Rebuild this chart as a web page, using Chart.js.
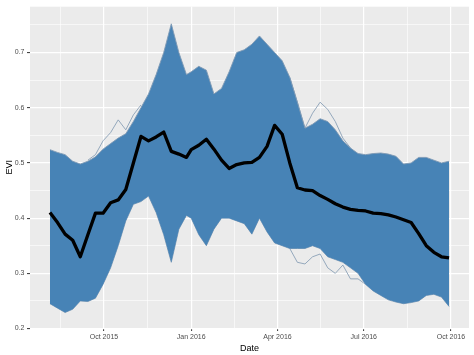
<!DOCTYPE html>
<html><head><meta charset="utf-8">
<script src="https://cdn.jsdelivr.net/npm/chart.js@4/dist/chart.umd.min.js"></script>
<style>html,body{margin:0;padding:0;background:#fff}#wrap{width:474px;height:355px}</style>
</head><body><div id="wrap"><canvas id="c" width="474" height="355"></canvas></div>
<script>
const dates = ['2015-08-05','2015-08-13','2015-08-21','2015-08-29','2015-09-06','2015-09-14','2015-09-22','2015-09-30',
 '2015-10-08','2015-10-16','2015-10-24','2015-11-01','2015-11-09','2015-11-17','2015-11-25','2015-12-03','2015-12-11',
 '2015-12-19','2015-12-27','2016-01-01','2016-01-09','2016-01-17','2016-01-25','2016-02-02','2016-02-10','2016-02-18',
 '2016-02-26','2016-03-05','2016-03-13','2016-03-21','2016-03-29','2016-04-06','2016-04-14','2016-04-22','2016-04-30',
 '2016-05-08','2016-05-16','2016-05-24','2016-06-01','2016-06-09','2016-06-17','2016-06-25','2016-07-03','2016-07-11',
 '2016-07-19','2016-07-27','2016-08-04','2016-08-12','2016-08-20','2016-08-28','2016-09-05','2016-09-13','2016-09-21','2016-09-29'];
const meanEVI = [0.410,0.392,0.371,0.360,0.330,0.370,0.409,0.409,0.428,0.433,0.452,0.500,0.548,0.540,0.547,0.556,0.521,0.516,
 0.510,0.524,0.532,0.543,0.525,0.505,0.490,0.497,0.500,0.501,0.510,0.530,0.568,0.552,0.500,0.455,0.451,0.450,0.441,0.434,
 0.426,0.420,0.416,0.414,0.413,0.409,0.408,0.406,0.402,0.397,0.392,0.372,0.350,0.338,0.330,0.328];
const upperEVI = [0.524,0.519,0.515,0.503,0.498,0.503,0.511,0.525,0.535,0.545,0.553,0.575,0.600,0.625,0.660,0.700,0.752,0.700,
 0.660,0.665,0.675,0.668,0.625,0.635,0.665,0.700,0.705,0.715,0.730,0.715,0.700,0.685,0.655,0.610,0.563,0.570,0.580,0.575,
 0.560,0.540,0.527,0.517,0.515,0.517,0.518,0.516,0.512,0.498,0.500,0.510,0.510,0.505,0.500,0.503];
const lowerEVI = [0.245,0.237,0.229,0.235,0.250,0.249,0.255,0.280,0.310,0.350,0.395,0.425,0.430,0.440,0.410,0.370,0.320,0.380,
 0.405,0.400,0.370,0.350,0.380,0.400,0.400,0.395,0.390,0.371,0.400,0.375,0.355,0.350,0.345,0.345,0.345,0.350,0.345,0.330,
 0.325,0.320,0.310,0.300,0.280,0.268,0.260,0.252,0.248,0.245,0.247,0.250,0.260,0.262,0.257,0.240];
// individual strays visible outside the dense band (null = not separately visible)
const strayHighEarly = [null,null,null,null,null,0.505,0.515,0.540,0.555,0.578,0.560,0.587,0.605,null,null,null,null,null,
 null,null,null,null,null,null,null,null,null,null,null,null,null,null,null,null,null,null,null,null,null,null,null,null,
 null,null,null,null,null,null,null,null,null,null,null,null];
const strayHighMay = [null,null,null,null,null,null,null,null,null,null,null,null,null,null,null,null,null,null,null,null,
 null,null,null,null,null,null,null,null,null,null,null,null,0.655,0.610,0.563,0.590,0.610,0.597,0.575,0.545,0.527,null,
 null,null,null,null,null,null,null,null,null,null,null,null];
const strayLowMay = [null,null,null,null,null,null,null,null,null,null,null,null,null,null,null,null,null,null,null,null,
 null,null,null,null,null,null,null,null,null,null,null,null,0.345,0.320,0.317,0.330,0.335,0.310,0.300,0.315,0.290,0.290,
 0.280,null,null,null,null,null,null,null,null,null,null,null];
const xTickDates = ['2015-10-01','2016-01-01','2016-04-01','2016-07-01','2016-10-01'];
const xTickLabels = ['Oct 2015','Jan 2016','Apr 2016','Jul 2016','Oct 2016'];
const yTickValues = [0.2,0.3,0.4,0.5,0.6,0.7];

function dayNum(s){const p=s.split('-').map(Number);return Date.UTC(p[0],p[1]-1,p[2])/86400000;}
const xs = dates.map(dayNum);
const pts = arr => arr.map((v,i)=>({x:xs[i],y:v}));
const xMin = xs[0]-0.05*(xs[xs.length-1]-xs[0]);
const xMax = xs[xs.length-1]+0.05*(xs[xs.length-1]-xs[0]);
const xMajor = xTickDates.map(dayNum);
const prevMajor = dayNum('2015-07-01');
const xAll = [];
[prevMajor].concat(xMajor).forEach((v,i,a)=>{ if(i>0){ xAll.push({value:(a[i-1]+v)/2,minor:true}); xAll.push({value:v,minor:false,label:xTickLabels[i-1]}); } });
const xTicks = xAll.filter(t=>t.value>=xMin && t.value<=xMax);
const yTicks = [];
yTickValues.forEach(v=>{ yTicks.push({value:v,minor:false}); yTicks.push({value:+(v+0.05).toFixed(2),minor:true}); });
const yMin = 0.201, yMax = 0.783;

const bgPlugin = {id:'panelbg', beforeDraw(chart){const a=chart.chartArea,ctx=chart.ctx;ctx.save();ctx.fillStyle='#EBEBEB';ctx.fillRect(a.left,a.top,a.right-a.left,a.bottom-a.top);ctx.restore();}};
const FONT = "'Liberation Sans', Arial, sans-serif";
const stray = (d,o)=>({data:pts(d), borderColor:'#7d97b0', borderWidth:0.8, pointRadius:0, fill:false, spanGaps:false, order:o});

new Chart(document.getElementById('c'), {
  type:'line',
  data:{datasets:[
    {label:'mean', data:pts(meanEVI), borderColor:'#000', borderWidth:3.3, pointRadius:0, fill:false, order:0, borderJoinStyle:'round', borderCapStyle:'butt'},
    {label:'upper', data:pts(upperEVI), borderColor:'#7f9ab4', borderWidth:0.9, pointRadius:0, fill:'+1', backgroundColor:'#4783B6', order:1},
    {label:'lower', data:pts(lowerEVI), borderColor:'#7f9ab4', borderWidth:0.9, pointRadius:0, fill:false, order:2},
    stray(strayHighEarly,3), stray(strayHighMay,4), stray(strayLowMay,5)
  ]},
  options:{
    responsive:false, animation:false, events:[],
    layout:{padding:{top:4,right:5,left:0,bottom:0}},
    plugins:{legend:{display:false},tooltip:{enabled:false}},
    elements:{line:{tension:0}},
    scales:{
      x:{type:'linear', min:xMin, max:xMax,
        afterBuildTicks(s){s.ticks = xTicks.map(t=>({value:t.value}));},
        afterFit(s){s.height=27;},
        grid:{color:'#fff', lineWidth:c=> (xTicks[c.index]&&xTicks[c.index].minor)?0.6:1.2, tickLength:3, tickWidth:1,
              tickColor:c=> (xTicks[c.index]&&xTicks[c.index].minor)?'rgba(0,0,0,0)':'#333'},
        border:{display:false},
        ticks:{autoSkip:false, maxRotation:0, padding:1.5, color:'#4D4D4D', font:{family:FONT,size:7},
          callback:(v,i)=> xTicks[i].minor?'':xTicks[i].label},
        title:{display:true, text:'Date', color:'#000', font:{family:FONT,size:9}, padding:{top:0,bottom:1}}
      },
      y:{type:'linear', min:yMin, max:yMax,
        afterBuildTicks(s){s.ticks = yTicks.map(t=>({value:t.value}));},
        afterFit(s){s.width=30;},
        grid:{color:'#fff', lineWidth:c=> (yTicks[c.index]&&yTicks[c.index].minor)?0.6:1.2, tickLength:3, tickWidth:1,
              tickColor:c=> (yTicks[c.index]&&yTicks[c.index].minor)?'rgba(0,0,0,0)':'#333'},
        border:{display:false},
        ticks:{autoSkip:false, padding:2.5, color:'#4D4D4D', font:{family:FONT,size:7},
          callback:(v,i)=> yTicks[i].minor?'':yTicks[i].value.toFixed(1)},
        title:{display:true, text:'EVI', color:'#000', font:{family:FONT,size:9}, padding:{top:4.6,bottom:0}}
      }
    }
  },
  plugins:[bgPlugin]
});
</script></body></html>
